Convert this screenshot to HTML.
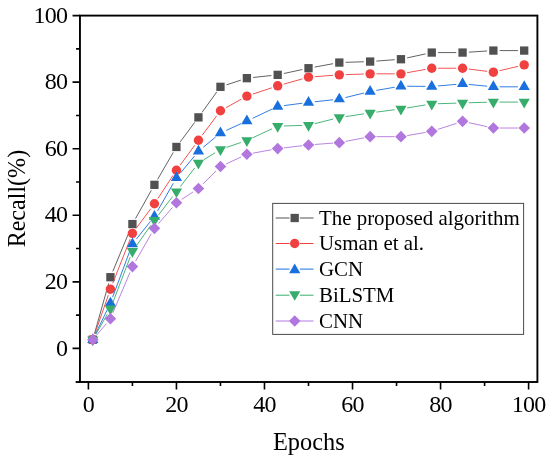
<!DOCTYPE html>
<html lang="en"><head><meta charset="utf-8"><title>Recall vs Epochs</title>
<style>html,body{margin:0;padding:0;background:#fff}body{width:550px;height:462px;overflow:hidden}</style></head>
<body>
<svg width="550" height="462" viewBox="0 0 550 462" style="display:block">
<rect width="550" height="462" fill="#fff"/>
<path d="M94.51 333.62L108.70 283.28M112.82 271.39L130.01 229.89M135.50 218.57L151.35 190.32M157.60 179.38L173.27 152.40M180.20 141.90L194.69 122.42M202.13 112.26L216.78 91.93M226.45 84.86L240.89 80.13M253.14 77.49L271.42 75.51M283.85 73.51L302.34 69.54M314.70 67.08L333.12 63.70M345.61 62.35L363.83 61.76M376.41 61.08L394.66 59.71M407.10 57.90L425.60 53.90M438.06 52.57L456.27 52.57M468.86 52.17L487.10 50.98M499.68 50.58L517.90 50.58" stroke="#515151" stroke-width="0.9" fill="none"/>
<rect x="88.65" y="335.53" width="8.3" height="8.3" fill="#515151"/>
<rect x="106.26" y="273.06" width="8.3" height="8.3" fill="#515151"/>
<rect x="128.27" y="219.92" width="8.3" height="8.3" fill="#515151"/>
<rect x="150.28" y="180.68" width="8.3" height="8.3" fill="#515151"/>
<rect x="172.29" y="142.81" width="8.3" height="8.3" fill="#515151"/>
<rect x="194.30" y="113.22" width="8.3" height="8.3" fill="#515151"/>
<rect x="216.31" y="82.67" width="8.3" height="8.3" fill="#515151"/>
<rect x="242.72" y="74.02" width="8.3" height="8.3" fill="#515151"/>
<rect x="273.54" y="70.69" width="8.3" height="8.3" fill="#515151"/>
<rect x="304.35" y="64.07" width="8.3" height="8.3" fill="#515151"/>
<rect x="335.16" y="58.41" width="8.3" height="8.3" fill="#515151"/>
<rect x="365.98" y="57.41" width="8.3" height="8.3" fill="#515151"/>
<rect x="396.79" y="55.08" width="8.3" height="8.3" fill="#515151"/>
<rect x="427.61" y="48.42" width="8.3" height="8.3" fill="#515151"/>
<rect x="458.42" y="48.42" width="8.3" height="8.3" fill="#515151"/>
<rect x="489.23" y="46.43" width="8.3" height="8.3" fill="#515151"/>
<rect x="520.05" y="46.43" width="8.3" height="8.3" fill="#515151"/>
<path d="M94.88 333.73L108.34 295.14M112.72 283.33L130.11 239.21M136.18 228.30L150.67 208.85M157.88 198.53L172.99 175.49M180.17 165.14L194.72 145.37M202.21 135.25L216.70 115.80M225.97 107.69L241.36 99.16M252.85 94.11L271.71 87.82M283.75 84.12L302.43 78.87M314.78 76.69L333.03 75.31M345.61 74.63L363.83 74.04M376.43 73.84L394.64 73.84M407.14 72.71L425.56 69.35M438.06 68.22L456.27 68.22M468.82 69.02L487.14 71.37M499.51 70.73L518.07 66.34" stroke="#F14040" stroke-width="0.9" fill="none"/>
<circle cx="92.80" cy="339.68" r="4.7" fill="#F14040"/>
<circle cx="110.41" cy="289.19" r="4.7" fill="#F14040"/>
<circle cx="132.42" cy="233.35" r="4.7" fill="#F14040"/>
<circle cx="154.43" cy="203.80" r="4.7" fill="#F14040"/>
<circle cx="176.44" cy="170.22" r="4.7" fill="#F14040"/>
<circle cx="198.45" cy="140.30" r="4.7" fill="#F14040"/>
<circle cx="220.46" cy="110.75" r="4.7" fill="#F14040"/>
<circle cx="246.87" cy="96.10" r="4.7" fill="#F14040"/>
<circle cx="277.69" cy="85.82" r="4.7" fill="#F14040"/>
<circle cx="308.50" cy="77.17" r="4.7" fill="#F14040"/>
<circle cx="339.31" cy="74.84" r="4.7" fill="#F14040"/>
<circle cx="370.13" cy="73.84" r="4.7" fill="#F14040"/>
<circle cx="400.94" cy="73.84" r="4.7" fill="#F14040"/>
<circle cx="431.76" cy="68.22" r="4.7" fill="#F14040"/>
<circle cx="462.57" cy="68.22" r="4.7" fill="#F14040"/>
<circle cx="493.38" cy="72.18" r="4.7" fill="#F14040"/>
<circle cx="524.20" cy="64.89" r="4.7" fill="#F14040"/>
<path d="M95.54 334.01L107.68 308.81M112.61 297.23L130.22 249.90M136.35 239.08L150.50 221.34M157.55 210.94L173.32 183.34M180.46 173.02L194.43 156.14M203.30 147.26L215.61 137.04M226.20 130.41L241.13 123.63M252.56 118.33L271.99 109.12M283.93 105.61L302.25 103.24M314.76 101.75L333.05 99.78M345.43 97.59L364.01 92.99M376.34 90.41L394.73 87.23M407.24 86.22L425.46 86.42M438.03 85.94L456.29 84.37M468.84 84.43L487.11 86.21M499.68 86.82L517.90 86.82" stroke="#1A6FDF" stroke-width="0.9" fill="none"/>
<polygon points="87.20,342.91 98.40,342.91 92.80,333.21" fill="#1A6FDF"/>
<polygon points="104.81,306.37 116.01,306.37 110.41,296.67" fill="#1A6FDF"/>
<polygon points="126.82,247.23 138.02,247.23 132.42,237.53" fill="#1A6FDF"/>
<polygon points="148.83,219.64 160.03,219.64 154.43,209.94" fill="#1A6FDF"/>
<polygon points="170.84,181.11 182.04,181.11 176.44,171.41" fill="#1A6FDF"/>
<polygon points="192.85,154.52 204.05,154.52 198.45,144.82" fill="#1A6FDF"/>
<polygon points="214.86,136.25 226.06,136.25 220.46,126.55" fill="#1A6FDF"/>
<polygon points="241.27,124.26 252.47,124.26 246.87,114.56" fill="#1A6FDF"/>
<polygon points="272.09,109.65 283.29,109.65 277.69,99.95" fill="#1A6FDF"/>
<polygon points="302.90,105.66 314.10,105.66 308.50,95.96" fill="#1A6FDF"/>
<polygon points="333.71,102.33 344.91,102.33 339.31,92.63" fill="#1A6FDF"/>
<polygon points="364.53,94.71 375.73,94.71 370.13,85.01" fill="#1A6FDF"/>
<polygon points="395.34,89.39 406.54,89.39 400.94,79.69" fill="#1A6FDF"/>
<polygon points="426.16,89.72 437.36,89.72 431.76,80.02" fill="#1A6FDF"/>
<polygon points="456.97,87.06 468.17,87.06 462.57,77.36" fill="#1A6FDF"/>
<polygon points="487.78,90.05 498.98,90.05 493.38,80.35" fill="#1A6FDF"/>
<polygon points="518.60,90.05 529.80,90.05 524.20,80.35" fill="#1A6FDF"/>
<path d="M95.92 334.21L107.29 314.27M112.66 302.91L130.17 257.17M136.06 246.15L150.79 225.38M158.27 215.25L172.60 196.64M180.28 186.66L194.61 168.06M203.81 159.75L215.10 152.77M226.42 147.42L240.91 142.50M252.59 137.82L271.97 128.84M283.98 125.99L302.20 125.40M314.61 123.67L333.20 119.06M345.54 116.60L363.90 113.85M376.38 112.10L394.69 109.73M407.16 107.91L425.54 104.93M438.05 103.72L456.27 103.13M468.87 102.76L487.09 102.26M499.68 102.09L517.90 102.09" stroke="#37AD6B" stroke-width="0.9" fill="none"/>
<polygon points="87.20,336.45 98.40,336.45 92.80,346.15" fill="#37AD6B"/>
<polygon points="104.81,305.56 116.01,305.56 110.41,315.26" fill="#37AD6B"/>
<polygon points="126.82,248.06 138.02,248.06 132.42,257.76" fill="#37AD6B"/>
<polygon points="148.83,217.01 160.03,217.01 154.43,226.71" fill="#37AD6B"/>
<polygon points="170.84,188.42 182.04,188.42 176.44,198.12" fill="#37AD6B"/>
<polygon points="192.85,159.83 204.05,159.83 198.45,169.53" fill="#37AD6B"/>
<polygon points="214.86,146.22 226.06,146.22 220.46,155.92" fill="#37AD6B"/>
<polygon points="241.27,137.23 252.47,137.23 246.87,146.93" fill="#37AD6B"/>
<polygon points="272.09,122.96 283.29,122.96 277.69,132.66" fill="#37AD6B"/>
<polygon points="302.90,121.96 314.10,121.96 308.50,131.66" fill="#37AD6B"/>
<polygon points="333.71,114.30 344.91,114.30 339.31,124.00" fill="#37AD6B"/>
<polygon points="364.53,109.68 375.73,109.68 370.13,119.38" fill="#37AD6B"/>
<polygon points="395.34,105.68 406.54,105.68 400.94,115.38" fill="#37AD6B"/>
<polygon points="426.16,100.69 437.36,100.69 431.76,110.39" fill="#37AD6B"/>
<polygon points="456.97,99.69 468.17,99.69 462.57,109.39" fill="#37AD6B"/>
<polygon points="487.78,98.86 498.98,98.86 493.38,108.56" fill="#37AD6B"/>
<polygon points="518.60,98.86 529.80,98.86 524.20,108.56" fill="#37AD6B"/>
<path d="M96.86 334.86L106.35 323.57M112.86 312.94L129.97 272.40M135.56 261.14L151.29 233.82M158.54 223.59L172.33 207.57M181.72 199.37L193.17 191.92M202.91 184.04L216.00 171.00M226.17 163.90L241.16 156.93M253.07 153.14L271.49 149.76M283.94 147.88L302.24 145.70M314.78 144.48L333.03 143.10M345.50 141.43L363.94 137.87M376.43 136.67L394.64 136.67M407.15 135.60L425.55 132.42M437.75 129.41L456.58 123.31M468.73 122.69L487.23 126.69M499.68 128.02L517.90 128.02" stroke="#B177DE" stroke-width="0.9" fill="none"/>
<polygon points="87.00,339.68 92.80,333.88 98.60,339.68 92.80,345.48" fill="#B177DE"/>
<polygon points="104.61,318.75 110.41,312.95 116.21,318.75 110.41,324.55" fill="#B177DE"/>
<polygon points="126.62,266.60 132.42,260.80 138.22,266.60 132.42,272.40" fill="#B177DE"/>
<polygon points="148.63,228.36 154.43,222.56 160.23,228.36 154.43,234.16" fill="#B177DE"/>
<polygon points="170.64,202.80 176.44,197.00 182.24,202.80 176.44,208.60" fill="#B177DE"/>
<polygon points="192.65,188.49 198.45,182.69 204.25,188.49 198.45,194.29" fill="#B177DE"/>
<polygon points="214.66,166.56 220.46,160.76 226.26,166.56 220.46,172.36" fill="#B177DE"/>
<polygon points="241.07,154.28 246.87,148.48 252.67,154.28 246.87,160.08" fill="#B177DE"/>
<polygon points="271.89,148.62 277.69,142.82 283.49,148.62 277.69,154.42" fill="#B177DE"/>
<polygon points="302.70,144.96 308.50,139.16 314.30,144.96 308.50,150.76" fill="#B177DE"/>
<polygon points="333.51,142.63 339.31,136.83 345.11,142.63 339.31,148.43" fill="#B177DE"/>
<polygon points="364.33,136.67 370.13,130.87 375.93,136.67 370.13,142.47" fill="#B177DE"/>
<polygon points="395.14,136.67 400.94,130.87 406.74,136.67 400.94,142.47" fill="#B177DE"/>
<polygon points="425.96,131.35 431.76,125.55 437.56,131.35 431.76,137.15" fill="#B177DE"/>
<polygon points="456.77,121.36 462.57,115.56 468.37,121.36 462.57,127.16" fill="#B177DE"/>
<polygon points="487.58,128.02 493.38,122.22 499.18,128.02 493.38,133.82" fill="#B177DE"/>
<polygon points="518.40,128.02 524.20,122.22 530.00,128.02 524.20,133.82" fill="#B177DE"/>
<rect x="79.95" y="15.6" width="457.45" height="366.40" fill="none" stroke="#000" stroke-width="1.9"/>
<path d="M88.40 382.0V389.40M79.95 348.40H72.55M132.42 382.0V385.90M79.95 315.12H76.05M176.44 382.0V389.40M79.95 281.84H72.55M220.46 382.0V385.90M79.95 248.56H76.05M264.48 382.0V389.40M79.95 215.28H72.55M308.50 382.0V385.90M79.95 182.00H76.05M352.52 382.0V389.40M79.95 148.72H72.55M396.54 382.0V385.90M79.95 115.44H76.05M440.56 382.0V389.40M79.95 82.16H72.55M484.58 382.0V385.90M79.95 48.88H76.05M528.60 382.0V389.40M79.95 15.60H72.55" stroke="#000" stroke-width="1.6" fill="none"/>
<path d="M79.95 382.0H75.65" stroke="#000" stroke-width="1.9" fill="none"/>
<g font-family="'Liberation Serif', 'Times New Roman', serif" font-size="24" letter-spacing="-0.8" fill="#000">
<text x="88.40" y="411.6" text-anchor="middle">0</text>
<text x="67.2" y="355.50" text-anchor="end">0</text>
<text x="176.44" y="411.6" text-anchor="middle">20</text>
<text x="67.2" y="288.94" text-anchor="end">20</text>
<text x="264.48" y="411.6" text-anchor="middle">40</text>
<text x="67.2" y="222.38" text-anchor="end">40</text>
<text x="352.52" y="411.6" text-anchor="middle">60</text>
<text x="67.2" y="155.82" text-anchor="end">60</text>
<text x="440.56" y="411.6" text-anchor="middle">80</text>
<text x="67.2" y="89.26" text-anchor="end">80</text>
<text x="528.60" y="411.6" text-anchor="middle">100</text>
<text x="67.2" y="22.70" text-anchor="end">100</text>
</g>
<g font-family="'Liberation Serif', 'Times New Roman', serif" font-size="24" fill="#000">
<text transform="translate(308.8 449.6) scale(0.975 1)" font-size="25" text-anchor="middle">Epochs</text>
<text transform="translate(24.9 198.6) rotate(-90) scale(0.963 1)" font-size="25" text-anchor="middle">Recall(%)</text>
</g>
<rect x="272.7" y="203.4" width="250.90" height="131.00" fill="#fff" stroke="#4a4a4a" stroke-width="1"/>
<g font-family="'Liberation Serif', 'Times New Roman', serif" font-size="20" fill="#000">
<path d="M275.7 218.0H289.5M299.9 218.0H313.5" stroke="#515151" stroke-width="1" fill="none"/>
<rect x="290.55" y="213.85" width="8.3" height="8.3" fill="#515151"/>
<text transform="translate(319.0 224.80) scale(1.045 1)">The proposed algorithm</text>
<path d="M275.7 243.5H289.5M299.9 243.5H313.5" stroke="#F14040" stroke-width="1" fill="none"/>
<circle cx="294.70" cy="243.50" r="4.7" fill="#F14040"/>
<text transform="translate(319.0 250.30) scale(1.045 1)">Usman et al.</text>
<path d="M275.7 269.1H289.5M299.9 269.1H313.5" stroke="#1A6FDF" stroke-width="1" fill="none"/>
<polygon points="289.10,273.13 300.30,273.13 294.70,263.43" fill="#1A6FDF"/>
<text transform="translate(319.0 275.90) scale(1.045 1)">GCN</text>
<path d="M275.7 295.2H289.5M299.9 295.2H313.5" stroke="#37AD6B" stroke-width="1" fill="none"/>
<polygon points="289.10,291.17 300.30,291.17 294.70,300.87" fill="#37AD6B"/>
<text transform="translate(319.0 302.00) scale(1.045 1)">BiLSTM</text>
<path d="M275.7 321.0H289.5M299.9 321.0H313.5" stroke="#B177DE" stroke-width="1" fill="none"/>
<polygon points="288.90,321.00 294.70,315.20 300.50,321.00 294.70,326.80" fill="#B177DE"/>
<text transform="translate(319.0 327.80) scale(1.045 1)">CNN</text>
</g>
</svg>
</body></html>
